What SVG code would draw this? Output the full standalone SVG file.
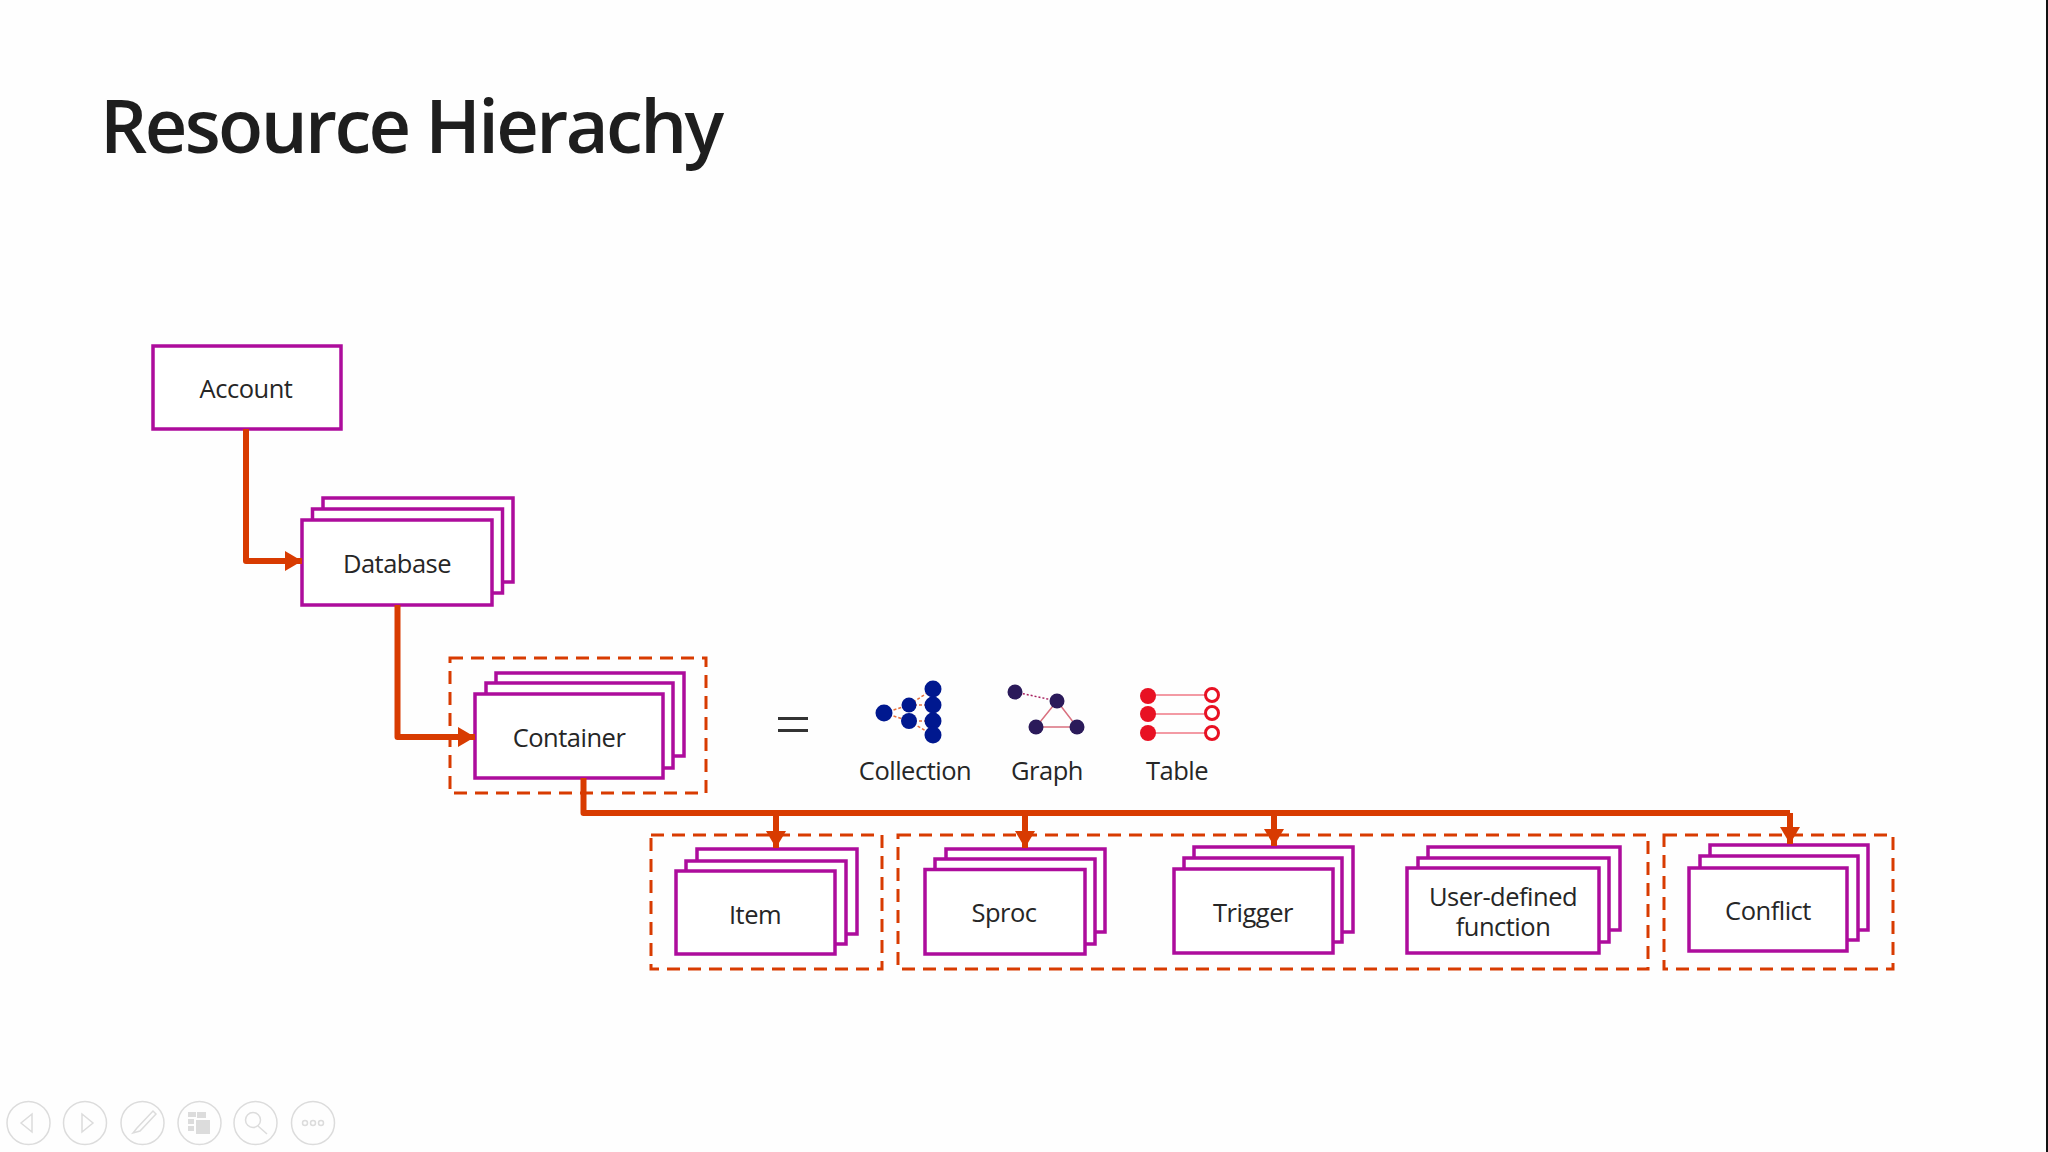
<svg xmlns="http://www.w3.org/2000/svg" width="2048" height="1152" viewBox="0 0 2048 1152">
<defs>
<marker id="ah" markerUnits="userSpaceOnUse" markerWidth="18" markerHeight="20" refX="17" refY="10" orient="auto"><path d="M0,0L17,10L0,20Z" fill="#d83b01"/></marker>
</defs>
<style>
.b{fill:#fff;stroke:#ad0c9c;stroke-width:3.5}
.d{fill:none;stroke:#d83b01;stroke-width:3;stroke-dasharray:13 8}
.c{fill:none;stroke:#d83b01;stroke-width:6;stroke-linejoin:round}
.t{font-family:"Open Sans","Noto Sans",sans-serif;font-size:25.5px;letter-spacing:-0.5px;fill:#262626;text-anchor:middle}
.n{fill:none;stroke:#dcdcdc;stroke-width:1.5}
.f{fill:#dcdcdc}
.cd{fill:none;stroke:#e8703a;stroke-width:1.5;stroke-dasharray:3 2}
.gl{fill:none;stroke:#d9707f;stroke-width:1.5}
.gd{fill:none;stroke:#a8205f;stroke-width:1.5;stroke-dasharray:2 2}
.tl{fill:none;stroke:#f07a86;stroke-width:1.5}
</style>
<rect width="2048" height="1152" fill="#fefefe"/>
<rect x="2046" y="0" width="2" height="1152" fill="#111"/>
<text id="title" x="100" y="153" font-family="'Open Sans','Noto Sans',sans-serif" font-weight="600" font-size="74" letter-spacing="-2.6" fill="#1e1e1e">Resource Hierachy</text>

<g id="dashed-frames">
<rect class="d" x="450" y="658" width="256" height="135"/>
<rect class="d" x="651" y="835" width="231" height="134"/>
<rect class="d" x="898" y="835" width="750" height="134"/>
<rect class="d" x="1664" y="835" width="229" height="134"/>
</g>

<g id="account"><rect class="b" x="153" y="346" width="188" height="83"/><text class="t" x="246" y="398">Account</text></g>
<g id="database">
<rect class="b" x="323" y="498" width="190" height="84"/><rect class="b" x="312.500" y="509" width="190" height="84"/><rect class="b" x="302" y="520" width="190" height="85"/>
<text class="t" x="397" y="573">Database</text></g>
<g id="container">
<rect class="b" x="496" y="673" width="188" height="83"/><rect class="b" x="486" y="683" width="187" height="85"/><rect class="b" x="475" y="694" width="188" height="84"/>
<text class="t" x="569" y="747">Container</text></g>
<g id="item">
<rect class="b" x="697" y="849" width="160" height="85"/><rect class="b" x="686" y="861" width="160" height="83"/><rect class="b" x="676" y="871" width="159" height="83"/>
<text class="t" x="755" y="924">Item</text></g>
<g id="sproc">
<rect class="b" x="946" y="849" width="159" height="83"/><rect class="b" x="935" y="859" width="160" height="85"/><rect class="b" x="925" y="869.500" width="160" height="84.500"/>
<text class="t" x="1004" y="922">Sproc</text></g>
<g id="trigger">
<rect class="b" x="1194" y="847" width="159" height="85"/><rect class="b" x="1184" y="858" width="158" height="84"/><rect class="b" x="1174" y="869" width="159" height="84"/>
<text class="t" x="1253" y="922">Trigger</text></g>
<g id="udf">
<rect class="b" x="1428" y="847" width="192" height="83"/><rect class="b" x="1418" y="858" width="191" height="84"/><rect class="b" x="1407" y="868" width="192" height="85"/>
<text class="t" x="1503" y="906">User-defined</text><text class="t" x="1503" y="936">function</text></g>
<g id="conflict">
<rect class="b" x="1710" y="845" width="158" height="85"/><rect class="b" x="1700" y="856" width="158" height="84"/><rect class="b" x="1689" y="868" width="158" height="83"/>
<text class="t" x="1768" y="920">Conflict</text></g>

<g id="connectors">
<path class="c" marker-end="url(#ah)" d="M246,429V561H302"/>
<path class="c" marker-end="url(#ah)" d="M397.500,605V737H475"/>
<path class="c" d="M583.500,778V813H1790"/>
<path class="c" marker-end="url(#ah)" d="M776,813V848"/>
<path class="c" marker-end="url(#ah)" d="M1025,813V848"/>
<path class="c" marker-end="url(#ah)" d="M1274,813V846"/>
<path class="c" marker-end="url(#ah)" d="M1790,813V844"/>
</g>

<g id="equals"><rect x="778" y="717" width="30" height="3" fill="#333"/><rect x="778" y="729" width="30" height="3" fill="#333"/></g>

<g id="collection">
<path class="cd" d="M884,713L909,705M884,713L909,721M909,705L933,689M909,705H933M909,721H933M909,721L933,735"/>
<g fill="#00188f"><circle cx="884" cy="713" r="8.500"/><circle cx="909" cy="705" r="7.500"/><circle cx="909" cy="721" r="8"/><circle cx="933" cy="689" r="8.500"/><circle cx="933" cy="705" r="8.500"/><circle cx="933" cy="721" r="8.500"/><circle cx="933" cy="735" r="8.500"/></g>
<text class="t" x="915" y="780">Collection</text></g>
<g id="graph">
<path class="gd" d="M1015,692L1057,701"/><path class="gl" d="M1057,701L1036,727H1077Z"/>
<g fill="#2b1a5a"><circle cx="1015" cy="692" r="7.500"/><circle cx="1057" cy="701" r="7.500"/><circle cx="1036" cy="727" r="7.500"/><circle cx="1077" cy="727" r="7.500"/></g>
<text class="t" x="1047" y="780">Graph</text></g>
<g id="table">
<path class="tl" d="M1148,695H1212M1148,714H1212M1148,733H1212"/>
<g fill="#e81123"><circle cx="1148" cy="696" r="8"/><circle cx="1148" cy="714" r="8"/><circle cx="1148" cy="733" r="8"/></g>
<g fill="#fff" stroke="#e81123" stroke-width="3"><circle cx="1212" cy="695" r="6.500"/><circle cx="1212" cy="713" r="6.500"/><circle cx="1212" cy="733" r="6.500"/></g>
<text class="t" x="1177" y="780">Table</text></g>

<g id="nav">
<circle class="n" cx="28.500" cy="1123" r="21.500"/><path class="n" d="M32,1114V1132L21,1123Z"/>
<circle class="n" cx="85" cy="1123" r="21.500"/><path class="n" d="M82,1114V1132L93,1123Z"/>
<circle class="n" cx="142.500" cy="1123" r="21.500"/><path class="n" d="M133,1133L137,1128L153,1111L156,1114L140,1131Z"/>
<circle class="n" cx="199.500" cy="1123" r="21.500"/><rect class="f" x="188" y="1112" width="8" height="5"/><rect class="f" x="188" y="1119" width="6" height="5"/><rect class="f" x="188" y="1126" width="6" height="5"/><rect class="f" x="197" y="1112" width="9" height="6"/><rect class="f" x="196" y="1120" width="14" height="14"/>
<circle class="n" cx="255.500" cy="1123" r="21.500"/><circle class="n" cx="253" cy="1120" r="7.500" stroke-width="3"/><path class="n" d="M258,1126L267,1134" stroke-width="4"/>
<circle class="n" cx="313" cy="1123" r="21.500"/><circle class="n" cx="305" cy="1123" r="2.500"/><circle class="n" cx="313" cy="1123" r="2.500"/><circle class="n" cx="321" cy="1123" r="2.500"/>
</g>
</svg>
